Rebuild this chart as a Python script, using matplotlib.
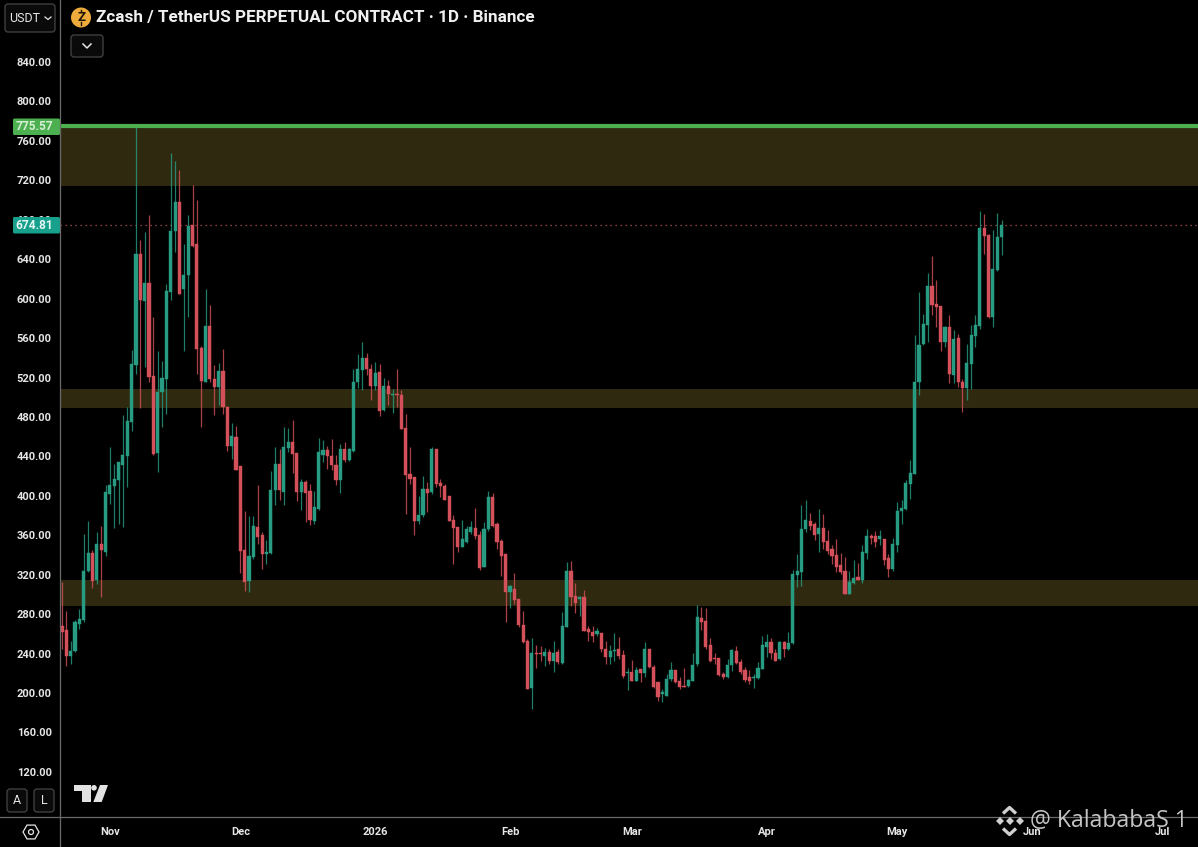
import matplotlib
matplotlib.use('Agg')
import matplotlib.pyplot as plt
import matplotlib.patches as mpatches
import numpy as np
import pandas as pd

plt.rcParams['font.family'] = ['Roboto', 'DejaVu Sans']

# daily candles
opens = [268.5, 263.5, 238, 242.5, 270, 273.6, 323.6, 342, 315, 351.4, 342.9, 402, 410.5, 416, 431.8, 440, 474.7, 532.3,
         644.8, 598, 615.8, 522, 443.3, 505, 518.7, 606.6, 669, 698, 610, 623.5, 674.2, 655, 550, 515.4, 572, 518.7,
         510.3, 526.5, 490, 451, 460, 430, 344.6, 314, 338, 368.3, 360, 340.6, 342, 405.5, 432.5, 403.8, 448.8, 454.2,
         443.4, 403.8, 414, 404.8, 375, 386.9, 441, 446.7, 440, 431.8, 415.6, 447.7, 436.6, 446, 515.4, 527.9, 540,
         528.9, 511, 525.5, 486.6, 511, 501.8, 503.5, 501.8, 469, 421.7, 419, 375, 380.2, 406.5, 403.8, 447.7, 413,
         410.5, 400.3, 376, 368.9, 348.6, 353.7, 363, 367.5, 360.4, 328.3, 366.5, 399.3, 371.6, 354, 341.2, 302.3,
         305.7, 295.6, 269.5, 253.3, 205.3, 240.8, 240.8, 238, 241.5, 232.3, 241.5, 230.3, 266.8, 323.6, 298.9, 295.6,
         297.2, 264.5, 262.4, 260, 260.7, 244.8, 237, 243.1, 244.2, 238.7, 220.2, 221.2, 212.7, 224.5, 220, 244.2,
         226.9, 211, 199, 197.5, 214.4, 222.9, 212.7, 207.6, 206.9, 212.7, 229.9, 276.3, 272.9, 249.2, 235.7, 235.7,
         219.5, 216.1, 228.9, 243.1, 232, 222.9, 216.1, 215.4, 215.4, 224.5, 247.2, 251.6, 240.4, 234.7, 251.6, 244.8,
         250.9, 319.3, 322.6, 366.6, 375, 371, 361.5, 367.6, 354, 345.6, 340.5, 329.4, 323.6, 300.7, 311.8, 318.2,
         314.9, 341.9, 358.8, 358.8, 356.4, 355.8, 337.2, 326, 349.7, 384.5, 386.9, 412.2, 422.3, 515.4, 553.6, 572.9,
         612.4, 594.1, 592.1, 556, 571.2, 522.2, 560.3, 515.4, 509.6, 534, 561.7, 571.8, 671.9, 664.1, 581.3, 628.6,
         662.4]
highs = [312.5, 283, 252.7, 274, 285, 361.5, 375, 344.6, 363, 369, 411.5, 449.4, 432.5, 434, 482.5, 490, 548, 775.57,
         659, 667.5, 684.4, 581.3, 546.5, 536.7, 615, 747.9, 739.5, 730.7, 655, 684.4, 714.8, 699.6, 552, 610, 593.8,
         533, 534.6, 549.2, 491, 473.7, 471.3, 430, 385, 380, 380, 410.6, 363.2, 354.8, 425, 450, 447.7, 469.7, 468.7,
         477, 443.4, 417.3, 416.3, 411.6, 404.8, 458.6, 456.2, 451, 457.9, 441, 452.8, 454.5, 448.8, 528.9, 544, 555.9,
         544.8, 533.9, 535.6, 533.3, 519.7, 517, 507.9, 528.9, 506.9, 483.2, 450, 419, 399.8, 419.7, 414, 449.4, 447.7,
         417.2, 412, 400.3, 381, 368.9, 376, 369, 375, 387.8, 364.8, 373.3, 405.4, 402.7, 373.3, 356.4, 341.2, 310,
         321.6, 295.6, 283.7, 255, 256, 249.2, 248.2, 245.9, 244.9, 253.3, 244.9, 282, 333.4, 333.7, 311.4, 298.9,
         304.7, 268.5, 267.8, 265.8, 260.7, 253.3, 249.2, 260.7, 257.3, 243.8, 225.2, 233.7, 226.9, 224.5, 251.6,
         244.8, 228.9, 211, 204, 219.5, 231.3, 222.9, 216.1, 225.6, 214.4, 240.4, 289.8, 287, 286.4, 256, 240.4, 235.7,
         221.2, 234.7, 244.8, 248.2, 234.7, 226.2, 223.5, 219.5, 231.3, 258.3, 259.4, 256, 244.8, 253.3, 252.3, 261.7,
         324.9, 341.2, 391.2, 395.3, 382.5, 373.3, 386.9, 381.1, 364.9, 349.7, 356.4, 341.9, 337.8, 323.6, 334.5, 331.8,
         349.7, 366.6, 361.5, 363.9, 365.6, 356.4, 341.2, 357.4, 393.6, 396, 416.3, 436.5, 562.7, 606.6, 584.7, 625.9,
         642.8, 618.5, 592.1, 571.8, 583, 568.5, 563.7, 518.8, 554.3, 572.9, 583, 688.8, 685.4, 665.8, 669.2, 686.8,
         679.3]
lows = [244.9, 227, 229, 241.5, 265, 272, 322.6, 306.7, 310.8, 297.3, 339.5, 392, 367.2, 371.6, 368, 408.8, 466, 523.8,
        489.3, 530.6, 515.4, 441, 424, 470.3, 483.3, 598.2, 647.2, 605, 546.8, 581.3, 652.2, 523.8, 470, 515, 515.4,
        481.6, 491.7, 483.3, 446, 437.5, 426.4, 321.6, 304, 302.4, 336, 351.4, 326, 331, 341.3, 390.3, 396, 390.3,
        444.4, 423, 394.7, 385.9, 373.4, 370, 371.7, 385.2, 434.2, 427.5, 426.5, 410.6, 402.8, 434.2, 435, 444.4,
        509.6, 506.9, 522.1, 497.4, 506.9, 480.9, 486, 491.7, 484.3, 490, 468, 381.2, 411.6, 360, 371.7, 379, 383.5,
        402.1, 408.9, 399.3, 395.3, 375, 331, 342.9, 348, 352, 361.5, 356.4, 325, 327.7, 364.8, 368.9, 346, 319.2,
        271.9, 286.4, 290.5, 266.8, 250.6, 204.3, 184, 225.6, 233, 227.9, 229.6, 221.2, 229.6, 229.6, 266.8, 287.8,
        281, 278, 262.8, 253.3, 251.6, 257.4, 241.4, 229.6, 229.6, 233, 234.7, 215.4, 203.3, 212, 212, 211, 216.1,
        225.6, 205.3, 192.4, 190.7, 197.5, 212.7, 210, 204.3, 206, 206, 212, 227.9, 264.1, 244.8, 231.3, 229, 217.8,
        214.4, 215.4, 222.2, 229.6, 219.5, 211, 209.3, 205.3, 214.4, 224.5, 237, 234.7, 232.3, 233.7, 237, 243.8,
        249.9, 307.4, 309, 363.2, 364.9, 355.4, 342.9, 346.3, 341.2, 331, 322.6, 320.3, 300, 300, 310.8, 314.2, 311.5,
        336.2, 351.4, 348, 349.7, 329.4, 318.2, 323.6, 342.9, 371, 385.2, 397, 422, 501.9, 552.6, 556, 583, 571.2,
        546.8, 550.9, 514.4, 514.4, 510.3, 485, 496.8, 508.6, 550.9, 569.5, 644.8, 580.6, 571.2, 627.9, 643.8]
closes = [262.4, 237.5, 243, 272, 275, 323.6, 342, 314, 351.4, 344.6, 403.7, 411.5, 417, 434, 441, 476.4, 534, 644.8,
          598.2, 615.8, 520.4, 442.6, 505, 519.4, 607.3, 669, 698, 605, 623.5, 673.2, 653, 549.2, 516.4, 572, 518.7,
          510.3, 526.5, 490, 451, 461, 426.4, 344, 313, 338.5, 369, 358.2, 341.3, 343, 405.5, 432.5, 405.5, 450, 454.2,
          442, 403.8, 414, 402.8, 375.8, 388.6, 444.4, 446.7, 440, 430.8, 416.3, 447.7, 436.6, 447.7, 515.4, 528.9, 540,
          528.9, 511, 524.8, 486, 511, 502.8, 503.5, 501.8, 468, 420.7, 417.3, 375, 380.8, 406.5, 403, 447.7, 412,
          409.8, 395.3, 375, 367.5, 348, 356, 366.5, 368, 358.8, 327, 366.5, 399.3, 369.9, 353, 339.5, 302.3, 309,
          293.9, 269.2, 251.6, 204.3, 240.8, 239.8, 239.8, 241.5, 233, 240.8, 231.3, 267.8, 323.6, 297.2, 291.5, 297.2,
          262.8, 261.8, 257.7, 262.8, 244.8, 237, 243.1, 243.8, 238, 217.8, 221.2, 212.7, 223.5, 220, 244.8, 226.2,
          206.6, 196.5, 201, 214.4, 222.9, 211, 206.6, 206.6, 213.7, 228.9, 277.6, 271.9, 246.5, 232.3, 234.3, 218.8,
          216.1, 228.9, 243.8, 230.3, 221.2, 213.4, 212.7, 216.1, 225.6, 249.2, 251.6, 240.4, 233, 251.6, 244.8, 250.9,
          320.9, 323.6, 366.6, 375.7, 369.3, 360.8, 367.6, 353, 343.9, 339.5, 327.7, 322.6, 300.7, 312.5, 316.9, 314.9,
          342.9, 358.8, 357.4, 353, 358.8, 335, 326, 350.7, 384.5, 387.9, 413.2, 423, 515.4, 553.2, 573.9, 612.4, 593.1,
          591.4, 556, 571.2, 523.8, 559.3, 515.4, 509.6, 535, 562.7, 572.9, 671.9, 663.1, 581.3, 629.6, 662.4, 674.81]

start_date = '2025-10-21'
price_ticks = [120, 160, 200, 240, 280, 320, 360, 400, 440, 480, 520, 560, 600, 640, 680, 720, 760, 800, 840]
month_dates = ['2025-11-01', '2025-12-01', '2026-01-01', '2026-02-01', '2026-03-01', '2026-04-01', '2026-05-01',
               '2026-06-01', '2026-07-01']
month_labels = ['Nov', 'Dec', '2026', 'Feb', 'Mar', 'Apr', 'May', 'Jun', 'Jul']

# support / resistance zones (bottom, top)
zones = [(713.8, 773), (488.6, 507.9), (288.8, 314.2)]
top_line = 775.57
last_price = 674.81

UP = '#279c82'
DOWN = '#d4505a'
ZONE = '#2f2a0f'
GRID = '#6a6a6a'
TEXT = '#e6e6e6'

W, H = 1198, 847
fig = plt.figure(figsize=(W / 100, H / 100), dpi=100, facecolor='black')
ax = fig.add_axes([60 / W, 30 / H, (W - 60) / W, 817 / H], facecolor='black')

dates = pd.date_range(start_date, periods=len(opens))
x = np.arange(len(opens))
o = np.array(opens)
h = np.array(highs)
l = np.array(lows)
c = np.array(closes)
up = c >= o
colors = np.where(up, UP, DOWN)

for bottom, top in zones:
    ax.axhspan(bottom, top, color=ZONE, lw=0, zorder=1)
ax.axhline(last_price, color='#b8525a', lw=0.9, ls=(0, (1, 3)), zorder=2)

ax.vlines(x, l, h, colors=colors, lw=0.9, alpha=0.8, zorder=3)
ax.bar(x, np.abs(c - o), bottom=np.minimum(o, c), width=0.72, color=colors, lw=0.3, edgecolor=colors, zorder=4)
ax.axhline(top_line, color='#4caf50', lw=3, zorder=5)

ax.set_xlim((60 - 62) / 4.35, (W - 62) / 4.35)
ax.set_ylim(902.9 - 1.0142 * 817, 902.9)

ax.set_yticks(price_ticks)
ax.set_yticklabels(['%.2f' % p for p in price_ticks], fontsize=8, color=TEXT, fontweight='bold')
month_x = [(pd.Timestamp(d) - dates[0]).days for d in month_dates]
ax.set_xticks(month_x)
ax.set_xticklabels(month_labels, fontsize=8, color=TEXT, fontweight='bold')
ax.tick_params(axis='y', length=0, pad=6)
ax.tick_params(axis='x', length=0, pad=7)
for side in ['top', 'right', 'left', 'bottom']:
    ax.spines[side].set_visible(False)

# everything around the chart, in picture pixels
ui = fig.add_axes([0, 0, 1, 1], facecolor='none', zorder=10)
ui.set_xlim(0, W)
ui.set_ylim(H, 0)
ui.axis('off')

ui.plot([60, 60], [0, H], color=GRID, lw=0.9)
ui.plot([0, W], [817, 817], color=GRID, lw=0.9)


def button(x0, y0, w, h, label=None, size=9):
    ui.add_patch(mpatches.FancyBboxPatch((x0, y0), w, h, boxstyle='round,pad=0,rounding_size=3',
                                         fc='#0a0a0a', ec='#454545', lw=0.9))
    if label:
        ui.text(x0 + w / 2, y0 + h / 2, label, color=TEXT, fontsize=size, ha='center', va='center')


button(5, 4, 50, 28)
ui.text(9, 18, 'USDT', color=TEXT, fontsize=9, va='center')
ui.plot([45, 48, 51], [17, 19.5, 17], color=TEXT, lw=0.9)
button(71, 35, 32, 22)
ui.plot([83, 87, 91], [44, 48, 44], color=TEXT, lw=1.1)
button(7, 789, 20, 23, 'A', 9)
button(34, 789, 20, 23, 'L', 9)

# settings hexagon
ui.add_patch(mpatches.RegularPolygon((31, 832), 6, radius=8, orientation=np.pi / 2, fc='none', ec=TEXT, lw=0.9))
ui.add_patch(mpatches.Circle((31, 832), 2.5, fc='none', ec=TEXT, lw=0.9))

# last price and line labels
ui.add_patch(mpatches.FancyBboxPatch((13, 118.5), 47, 16.5, boxstyle='round,pad=0,rounding_size=1.5',
                                     fc='#4caf50', ec='none'))
ui.text(34, 126.8, '775.57', color='#d6efd6', fontsize=8.6, fontweight='bold', ha='center', va='center')
ui.add_patch(mpatches.FancyBboxPatch((13, 217), 47, 16.5, boxstyle='round,pad=0,rounding_size=1.5',
                                     fc='#17a08c', ec='none'))
ui.text(34, 225.4, '674.81', color='#e6f6f3', fontsize=8.6, fontweight='bold', ha='center', va='center')

# coin icon and title
ui.add_patch(mpatches.Circle((81, 17.5), 10, fc='#eeaa3b', ec='none'))
ui.text(81, 17.5, 'Z', color='#1c1405', fontsize=9.5, fontweight='bold', ha='center', va='center')
ui.plot([81, 81], [10, 12.5], color='#1c1405', lw=1)
ui.plot([81, 81], [22.5, 25], color='#1c1405', lw=1)
ui.text(96, 17.8, 'Zcash / TetherUS PERPETUAL CONTRACT · 1D · Binance', color='#f0f0f0', fontsize=12.3,
        fontweight='bold', va='center')

# tradingview mark
ui.add_patch(mpatches.Polygon([(74, 785), (90.7, 785), (90.7, 802), (81.7, 802), (81.7, 791.5), (74, 791.5)],
                              fc='#e2e2e2', ec='none'))
ui.add_patch(mpatches.Circle((94, 787.8), 2.8, fc='#e2e2e2', ec='none'))
ui.add_patch(mpatches.Polygon([(100, 785), (108, 785), (101.7, 802), (93.3, 802)], fc='#e2e2e2', ec='none'))

# watermark
mark = '#cfcfcf'
for dx, dy in [(0, 0), (-10, 0), (10, 0)]:
    ui.plot(1009.5 + dx, 821 + dy, marker='D', ms=3.6, color=mark, mew=0)
ui.plot([1003, 1009.5, 1016], [813.5, 807.5, 813.5], color=mark, lw=2.4, solid_capstyle='butt')
ui.plot([1003, 1009.5, 1016], [828.5, 834.5, 828.5], color=mark, lw=2.4, solid_capstyle='butt')
ui.text(1030, 821, '@ KalababaS 1', color='#c4c4c4', fontsize=16.7, family=['Open Sans', 'DejaVu Sans'], va='center')

fig.savefig('out.png', dpi=100, facecolor='black')
